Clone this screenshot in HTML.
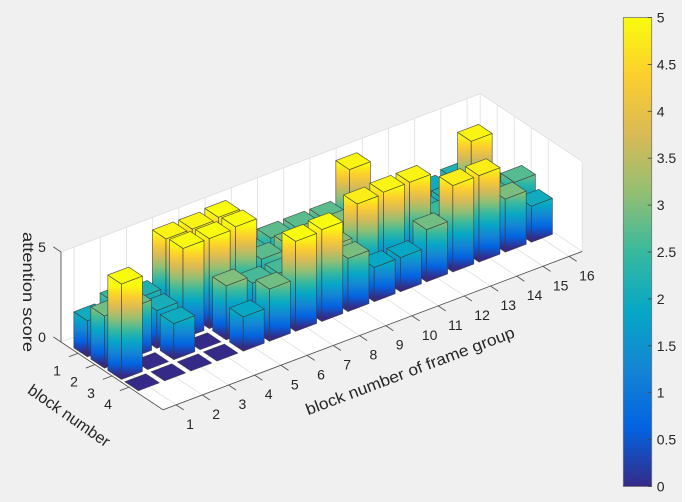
<!DOCTYPE html>
<html><head><meta charset="utf-8"><style>
html,body{margin:0;padding:0;background:#f0f0f0;}
svg{display:block;font-family:"Liberation Sans",Arial,sans-serif;}
</style></head><body>
<svg id="chart" width="685" height="502" viewBox="0 0 685 502" xmlns="http://www.w3.org/2000/svg">
<rect x="0" y="0" width="685" height="502" fill="#f0f0f0"/>
<rect x="682" y="0" width="3" height="502" fill="#ffffff"/>
<defs id="defs"></defs>
<g id="walls"></g>
<g id="grid"></g>
<g id="axes"></g>
<g id="bars"></g>
<g id="labels"></g>
<text x="0" y="0" transform="translate(23,292) rotate(90)" text-anchor="middle" font-size="16" fill="#262626" textLength="120" lengthAdjust="spacingAndGlyphs">attention score</text>
<text x="0" y="0" transform="translate(66,420) rotate(35)" text-anchor="middle" font-size="16" fill="#262626">block number</text>
<text x="0" y="0" transform="translate(412,376) rotate(-20.7)" text-anchor="middle" font-size="16" fill="#262626" textLength="222" lengthAdjust="spacingAndGlyphs">block number of frame group</text>
<g id="colorbar"></g>
</svg>
<script>
const frameGroups=[1,2,3,4,5,6,7,8,9,10,11,12,13,14,15,16];
const blockNumbers=[1,2,3,4];
const block1=[2.0,2.5,2.2,4.9,4.9,5.0,2.5,2.75,2.75,2.75,4.9,2.0,2.0,2.0,2.2,1.5];
const block2=[2.9,2.8,2.1,5.0,5.0,5.1,2.75,3.0,3.0,3.0,2.8,2.2,2.2,2.2,4.9,1.5];
const block3=[5.3,0,2.0,0,3.0,2.6,2.6,3.0,3.0,4.8,4.9,4.9,2.5,2.5,2.5,2.7];
const block4=[0,0,0,0,1.9,2.9,5.0,5.1,2.95,1.9,1.9,2.9,4.8,4.8,2.95,2.0];
const zTickValues=[0,5];
const colorbarTicks=['0','0.5','1','1.5','2','2.5','3','3.5','4','4.5','5'];

const NS='http://www.w3.org/2000/svg';
const ZMAX=5, YMAX=6, XMIN=0.5, XMAX=16.5;
function P(x,y,z){return [61+(x-0.5)*26.2+y*17, 342-(x-0.5)*9.9+y*11.3-z*18];}
const parula=[[0,'#352a87'],[0.125,'#0363e1'],[0.25,'#1485d4'],[0.375,'#06a7c6'],[0.5,'#38b99e'],[0.625,'#92bf73'],[0.75,'#d9ba56'],[0.875,'#fcce2e'],[1,'#f9fb0e']];
function hex(h){return [parseInt(h.substr(1,2),16),parseInt(h.substr(3,2),16),parseInt(h.substr(5,2),16)];}
function cmap(t){t=Math.max(0,Math.min(1,t));for(let i=1;i<parula.length;i++){if(t<=parula[i][0]){const a=parula[i-1],b=parula[i];const f=(t-a[0])/(b[0]-a[0]);const ca=hex(a[1]),cb=hex(b[1]);return 'rgb('+ca.map((v,k)=>Math.round(v+(cb[k]-v)*f)).join(',')+')';}}return parula[8][1];}
function el(tag,attrs,parent){const e=document.createElementNS(NS,tag);for(const k in attrs)e.setAttribute(k,attrs[k]);parent.appendChild(e);return e;}
function pts(a){return a.map(p=>p[0].toFixed(2)+','+p[1].toFixed(2)).join(' ');}
const defs=document.getElementById('defs');
let gid=0;
function grad(y1,y2){const id='g'+(gid++);const g=el('linearGradient',{id:id,gradientUnits:'userSpaceOnUse',x1:0,y1:y1,x2:0,y2:y2},defs);parula.forEach(s=>el('stop',{offset:s[0],'stop-color':s[1]},g));return id;}

const walls=document.getElementById('walls');
const backWall=el('polygon',{points:pts([P(XMIN,0,0),P(XMAX,0,0),P(XMAX,0,ZMAX),P(XMIN,0,ZMAX)]),fill:'#ffffff'},walls);


const sideWall=el('polygon',{points:pts([P(XMAX,0,0),P(XMAX,YMAX,0),P(XMAX,YMAX,ZMAX),P(XMAX,0,ZMAX)]),fill:'#ffffff'},walls);


const floor=el('polygon',{points:pts([P(XMIN,0,0),P(XMAX,0,0),P(XMAX,YMAX,0),P(XMIN,YMAX,0)]),fill:'#ffffff'},walls);



const grid=document.getElementById('grid');
function gl(a,b,name){const l=el('line',{x1:a[0],y1:a[1],x2:b[0],y2:b[1],stroke:'#dedede','stroke-width':0.8},grid);}
frameGroups.forEach(x=>{gl(P(x,0,0),P(x,0,ZMAX),'x-grid-wall');gl(P(x,0,0),P(x,YMAX,0),'x-grid-floor');});
blockNumbers.forEach(y=>{gl(P(XMAX,y,0),P(XMAX,y,ZMAX),'y-grid-wall');gl(P(XMIN,y,0),P(XMAX,y,0),'y-grid-floor');});
zTickValues.forEach(z=>{gl(P(XMIN,0,z),P(XMAX,0,z),'z-grid-back');gl(P(XMAX,0,z),P(XMAX,YMAX,z),'z-grid-side');});
gl(P(XMAX,0,0),P(XMAX,0,ZMAX),'back-corner-edge');
gl(P(XMAX,YMAX,0),P(XMAX,YMAX,ZMAX),'right-corner-edge');

const axes=document.getElementById('axes');
function al(a,b,name){const l=el('line',{x1:a[0],y1:a[1],x2:b[0],y2:b[1],stroke:'#555','stroke-width':0.9},axes);}
al(P(XMIN,0,0),P(XMIN,0,ZMAX),'z-axis-line');
al(P(XMIN,0,0),P(XMIN,YMAX,0),'y-axis-line');
al(P(XMIN,YMAX,0),P(XMAX,YMAX,0),'x-axis-line');
const labels=document.getElementById('labels');
function tx(x,y,s,anchor,name){const t=el('text',{x:x,y:y,'text-anchor':anchor,'font-size':14,fill:'#262626'},labels);t.textContent=s;}
zTickValues.forEach(z=>{const p=P(XMIN,0,z);al(p,P(XMIN,-0.45,z),'z-tick');tx(p[0]-19,p[1]+0,String(z),'middle','z-tick-label');});
blockNumbers.forEach(y=>{const p=P(XMIN,y,0);al(p,P(XMIN-0.35,y,0),'y-tick');tx(p[0]-21,p[1]+22,String(y),'middle','y-tick-label');});
frameGroups.forEach(x=>{const p=P(x,YMAX,0);al(p,P(x,YMAX+0.45,0),'x-tick');tx(p[0]+10,p[1]+24,String(x),'start','x-tick-label');});

const bars=document.getElementById('bars');
const rows=[block1,block2,block3,block4];
const list=[];
blockNumbers.forEach((y,yi)=>frameGroups.forEach((x,xi)=>list.push({x:x,y:y,v:rows[yi][xi]})));
list.sort((a,b)=>(-17*a.x+26.5*a.y)-(-17*b.x+26.5*b.y));
const w=0.4;
list.forEach(b=>{
  const g=el('g',{},bars);
  
  
  const A=[b.x-w,b.y-w],B=[b.x+w,b.y-w],C=[b.x+w,b.y+w],D=[b.x-w,b.y+w];
  const st={stroke:'#3a3a3a','stroke-width':0.7,'stroke-opacity':0.8,'stroke-linejoin':'round'};
  if(b.v>0){
    const f1=[P(A[0],A[1],0),P(D[0],D[1],0),P(D[0],D[1],b.v),P(A[0],A[1],b.v)];
    const by1=(f1[0][1]+f1[1][1])/2;
    const s1=el('polygon',Object.assign({points:pts(f1),fill:'url(#'+grad(by1,by1-ZMAX*18)+')'},st),g);
    
    
    const f2=[P(D[0],D[1],0),P(C[0],C[1],0),P(C[0],C[1],b.v),P(D[0],D[1],b.v)];
    const by2=(f2[0][1]+f2[1][1])/2;
    const s2=el('polygon',Object.assign({points:pts(f2),fill:'url(#'+grad(by2,by2-ZMAX*18)+')'},st),g);
    
    
  }
  const top=el('polygon',Object.assign({points:pts([P(A[0],A[1],b.v),P(B[0],B[1],b.v),P(C[0],C[1],b.v),P(D[0],D[1],b.v)]),fill:cmap(b.v/ZMAX)},st),g);
  
  
});

const cb=document.getElementById('colorbar');
const cbX=623.3,cbW=28.4,cbTop=17.5,cbBot=486.5;
const cg=grad(cbBot,cbTop);
const cr=el('rect',{x:cbX,y:cbTop,width:cbW,height:cbBot-cbTop,fill:'url(#'+cg+')',stroke:'#777','stroke-width':0.8},cb);


colorbarTicks.forEach(s=>{
  const v=parseFloat(s);const y=cbBot-(v/ZMAX)*(cbBot-cbTop);
  const t=el('line',{x1:cbX+cbW-4,y1:y,x2:cbX+cbW,y2:y,stroke:'#444','stroke-width':0.8},cb);
  
  
  const l=el('text',{x:cbX+cbW+5,y:y+5,'font-size':14,fill:'#262626'},cb);
  l.textContent=s;
  
  
});
</script>
</body></html>
